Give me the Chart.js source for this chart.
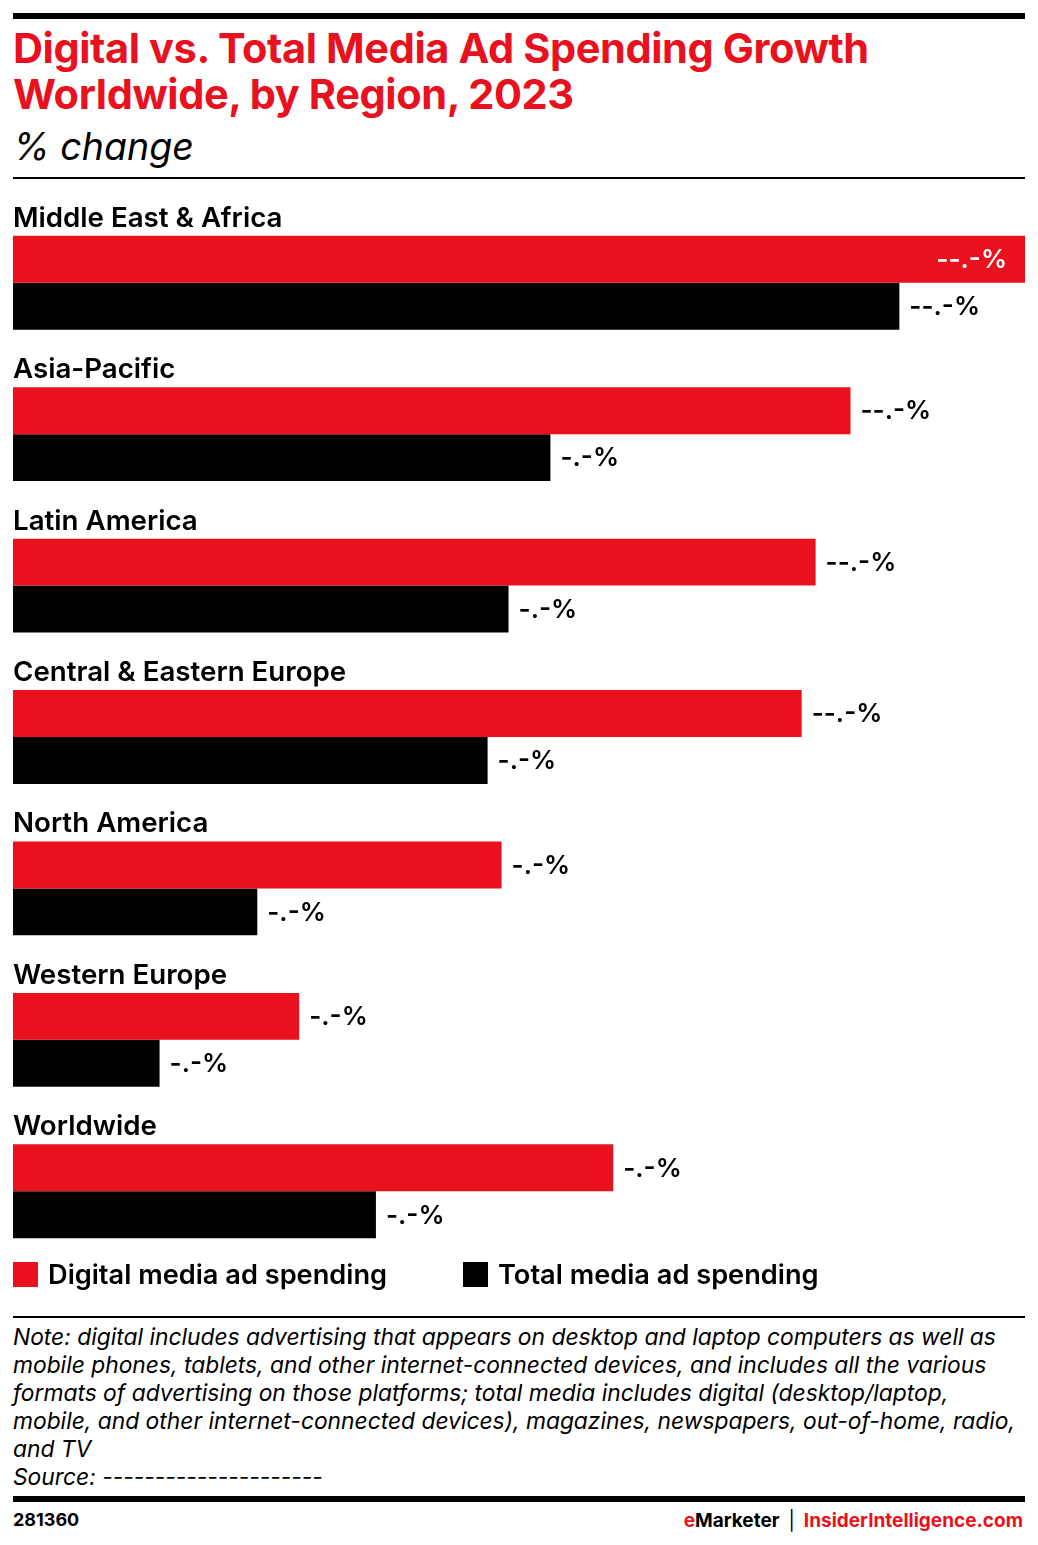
<!DOCTYPE html>
<html>
<head>
<meta charset="utf-8">
<script src="https://cdn.jsdelivr.net/npm/chart.js@4"></script>
<style>
body{margin:0;background:#fff;font-family:Inter,"Noto Sans",sans-serif;color:#000;}
#wrap{position:relative;width:1038px;height:1545px;overflow:hidden;}
.rule{position:absolute;left:13px;width:1012px;background:#000;}
#title{position:absolute;left:13px;top:25px;font-weight:700;font-size:41.5px;line-height:46px;color:#e8111d;letter-spacing:-0.4px;white-space:nowrap;}
#sub{position:absolute;left:13px;top:124px;font-style:italic;font-size:37.5px;line-height:46px;}
#chartBox{position:absolute;left:13px;top:180px;width:1012px;height:1087px;}
#legend{position:absolute;top:1258px;left:13px;font-weight:600;font-size:27.2px;line-height:34px;}
.lg{position:absolute;white-space:nowrap;}
.sw{display:inline-block;width:25px;height:25px;vertical-align:-3px;margin-right:10px;}
#note{position:absolute;left:13px;top:1323px;width:1020px;font-style:italic;font-size:22.8px;line-height:28px;white-space:nowrap;}
#foot{position:absolute;left:13px;top:1509px;width:1012px;font-weight:700;font-size:18px;}
#foot .r{position:absolute;right:2px;top:0;white-space:nowrap;font-size:19px;}
.red{color:#e8111d;}
.bar{font-weight:400;}
</style>
</head>
<body>
<div id="wrap">
<div class="rule" style="top:13px;height:6px"></div>
<div id="title">Digital vs. Total Media Ad Spending Growth<br>Worldwide, by Region, 2023</div>
<div id="sub">% change</div>
<div class="rule" style="top:177px;height:2px"></div>

<div id="chartBox"><canvas id="adChart"></canvas></div>

<div id="legend">
<span class="lg" style="left:0"><span class="sw" style="background:#e8111d"></span>Digital media ad spending</span>
<span class="lg" style="left:450px"><span class="sw" style="background:#000"></span>Total media ad spending</span>
</div>

<div class="rule" style="top:1316px;height:2px"></div>
<div id="note">Note: digital includes advertising that appears on desktop and laptop computers as well as<br>mobile phones, tablets, and other internet-connected devices, and includes all the various<br>formats of advertising on those platforms; total media includes digital (desktop/laptop,<br>mobile, and other internet-connected devices), magazines, newspapers, out-of-home, radio,<br>and TV<br>Source: ---------------------</div>
<div class="rule" style="top:1496px;height:6px"></div>
<div id="foot">281360<span class="r"><span class="red">e</span>Marketer &nbsp;<span class="bar">|</span>&nbsp; <span class="red">InsiderIntelligence.com</span></span></div>
</div>

<script>

/* DATA */

const regions = ["Middle East & Africa","Asia-Pacific","Latin America","Central & Eastern Europe","North America","Western Europe","Worldwide"];

const digitalGrowth = [14.5, 12.0, 11.5, 11.3, 7.0, 4.1, 8.6];

const totalGrowth = [12.7, 7.7, 7.1, 6.8, 3.5, 2.1, 5.2];

const axisMax = 14.5;

// values are hidden in the source picture, so labels are masked
function maskLabel(v){
return v >= 10 ? "--.-%" : "-.-%";
}


/* LABEL PLUGIN: region names above groups, values after bars */

const labelPlugin = {
id:"labels",
afterDatasetsDraw(chart){
const ctx = chart.ctx;
const left = chart.chartArea.left;
ctx.save();

const m0 = chart.getDatasetMeta(0);
const m1 = chart.getDatasetMeta(1);

m0.data.forEach((bar, i) => {
const top = bar.y - bar.height/2;
ctx.font = "600 27.7px Inter";
ctx.fillStyle = "#000";
ctx.textAlign = "left";
ctx.textBaseline = "alphabetic";
ctx.fillText(regions[i], left, top - 9);
});

ctx.font = "600 26px Inter";
ctx.textBaseline = "middle";
[m0, m1].forEach((meta, d) => {
const vals = d === 0 ? digitalGrowth : totalGrowth;
meta.data.forEach((bar, i) => {
const txt = maskLabel(vals[i]);
if(vals[i] >= axisMax - 0.5){
ctx.fillStyle = "#fff";
ctx.textAlign = "right";
ctx.fillText(txt, bar.x - 18, bar.y + 1);
} else {
ctx.fillStyle = "#000";
ctx.textAlign = "left";
ctx.fillText(txt, bar.x + 10, bar.y + 1);
}
});
});
ctx.restore();
}
};


/* BAR CHART */

function loadChart(){

const ctx = document.getElementById("adChart");

new Chart(ctx,{

type:"bar",

data:{
labels:regions,
datasets:[
{
label:"Digital media ad spending",
data:digitalGrowth,
backgroundColor:"#e8111d",
barPercentage:1,
categoryPercentage:0.62
},
{
label:"Total media ad spending",
data:totalGrowth,
backgroundColor:"#000",
barPercentage:1,
categoryPercentage:0.62
}
]
},

options:{
indexAxis:"y",
responsive:true,
maintainAspectRatio:false,
animation:false,
layout:{padding:{top:27,left:0,right:0,bottom:0}},
plugins:{legend:{display:false},tooltip:{enabled:false}},
scales:{
x:{display:false,min:0,max:axisMax},
y:{display:false}
}
},

plugins:[labelPlugin]

});

}

document.addEventListener("DOMContentLoaded", loadChart);

</script>
</body>
</html>
